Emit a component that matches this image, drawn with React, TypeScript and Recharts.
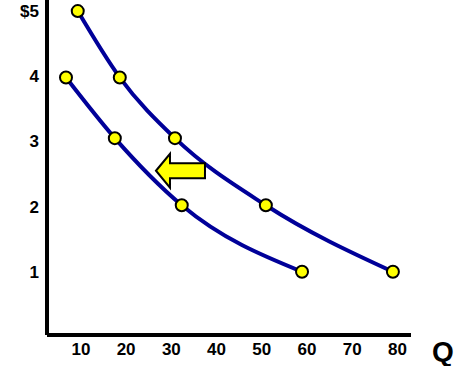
import { ComposedChart, Line, XAxis, YAxis, ReferenceDot } from "recharts";

// demand curve before the shift (upper)
const demandOldQ = [9.3, 18.6, 30.8, 50.9, 79.0];
const demandOldP = [5, 3.98, 3.05, 2.02, 1];

// demand curve after the shift (lower)
const demandNewQ = [6.7, 17.5, 32.3, 58.9];
const demandNewP = [3.98, 3.05, 2.02, 1];

const xTicks = [10, 20, 30, 40, 50, 60, 70, 80];
const yTicks = [1, 2, 3, 4, 5];

// arrow tip position (data units)
const arrowQ = 26.6;
const arrowP = 2.55;

const oldData = demandOldQ.map((q, i) => ({ q, p: demandOldP[i] }));
const newData = demandNewQ.map((q, i) => ({ q, p: demandNewP[i] }));

const LINE = "#000099";
const DOT = { r: 6, fill: "#ffff00", stroke: "#000", strokeWidth: 2 };
const tickFont = { fill: "#000", fontSize: 17, fontWeight: "bold", fontFamily: "Liberation Sans, Arial, sans-serif" };

const Arrow = (props: any) => {
  const { cx, cy } = props;
  const pts = [
    [0, 0], [14, -17], [14, -7.5], [49, -7.5], [49, 7.5], [14, 7.5], [14, 17],
  ].map(([dx, dy]) => `${cx + dx},${cy + dy}`).join(" ");
  return <polygon points={pts} fill="#ffff00" stroke="#000" strokeWidth={2} strokeLinejoin="miter" />;
};

export default function App() {
  return (
    <div style={{ position: "absolute", left: 0, top: 0, background: "#fff" }}>
      <ComposedChart width={475} height={366} margin={{ top: 0, right: 64, bottom: 1, left: 0 }}>
        <XAxis
          type="number"
          dataKey="q"
          domain={[2.5, 83]}
          ticks={xTicks}
          tickLine={false}
          axisLine={{ stroke: "#000", strokeWidth: 4 }}
          tick={tickFont}
          allowDataOverflow
          label={{ value: "Q", position: "right", offset: 21, dy: 1, fill: "#000", fontSize: 28, fontWeight: "bold", fontFamily: "Liberation Sans, Arial, sans-serif" }}
        />
        <YAxis
          type="number"
          dataKey="p"
          domain={[0.03, 5.17]}
          ticks={yTicks}
          width={47}
          tickLine={false}
          axisLine={{ stroke: "#000", strokeWidth: 4 }}
          tick={tickFont}
          tickFormatter={(v) => (v === 5 ? "$5" : String(v))}
          allowDataOverflow
        />
        <Line data={oldData} dataKey="p" type="monotone" stroke={LINE} strokeWidth={4} dot={DOT} isAnimationActive={false} />
        <Line data={newData} dataKey="p" type="monotone" stroke={LINE} strokeWidth={4} dot={DOT} isAnimationActive={false} />
        <ReferenceDot x={arrowQ} y={arrowP} r={1} shape={<Arrow />} />
      </ComposedChart>
    </div>
  );
}
